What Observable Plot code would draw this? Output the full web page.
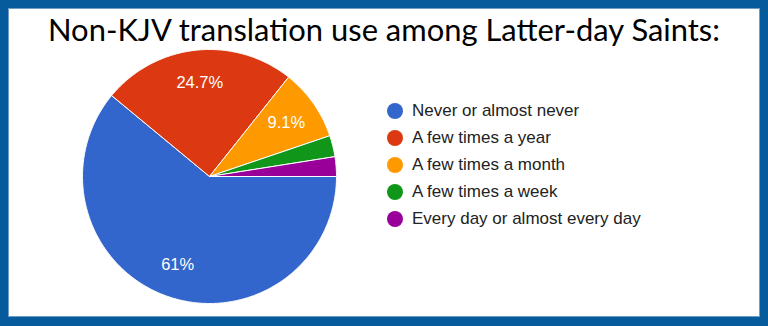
<!DOCTYPE html>
<html>
<head>
<meta charset="utf-8">
<script src="https://cdn.jsdelivr.net/npm/d3@7"></script>
<script src="https://cdn.jsdelivr.net/npm/@observablehq/plot@0.6"></script>
<style>
  html, body { margin: 0; padding: 0; background: #fff; }
  #frame {
    position: relative; width: 768px; height: 326px; box-sizing: border-box;
    border: 8px solid #055b9c; border-bottom-width: 9px;
    box-shadow: inset 0 0 0 1px #6f9cc6; background: #fff; overflow: hidden;
  }
  #title {
    position: absolute; left: 0; top: 3px; width: 752px; text-align: center;
    font-family: Lato, "Open Sans", sans-serif; font-size: 30px; color: #000;
    white-space: nowrap; line-height: 36px;
  }
  #title span { display: inline-block; transform-origin: center; }
  #pie { position: absolute; left: 73px; top: 40px; }
  #legend {
    position: absolute; left: 379px; top: 89px;
    font-family: Arial, "Liberation Sans", sans-serif; font-size: 17px; color: #222;
  }
  .row { display: flex; align-items: center; height: 27px; }
  .sw { width: 16px; height: 16px; border-radius: 50%; margin-right: 9px; flex: none; }
</style>
</head>
<body>
<div id="frame">
  <div id="title"><span>Non-KJV translation use among Latter-day Saints:</span></div>
  <div id="pie"></div>
  <div id="legend"></div>
</div>
<script>
const categories = ["Never or almost never", "A few times a year", "A few times a month", "A few times a week", "Every day or almost every day"];
const values = [61, 24.7, 9.1, 2.7, 2.5];
const sliceLabels = ["61%", "24.7%", "9.1%", "", ""];
const colors = ["#3366cc", "#dc3912", "#ff9900", "#109618", "#990099"];

// Fit title width
const tspan = document.querySelector("#title span");
const w = tspan.getBoundingClientRect().width;
tspan.style.transform = `scaleX(${672 / w})`;

// Pie geometry from data (d3.pie, clockwise from 3 o'clock)
const arcs = d3.pie().sort(null).startAngle(Math.PI / 2).endAngle(Math.PI / 2 + 2 * Math.PI)(values);
const outline = [];
const labelPts = [];
arcs.forEach((a, i) => {
  const cat = categories[i];
  outline.push({cat, x: 0, y: 0});
  const n = Math.max(2, Math.ceil((a.endAngle - a.startAngle) / 0.01));
  for (let k = 0; k <= n; k++) {
    const t = a.startAngle + (a.endAngle - a.startAngle) * k / n;
    outline.push({cat, x: Math.sin(t), y: Math.cos(t)});
  }
  outline.push({cat, x: 0, y: 0});
  const m = (a.startAngle + a.endAngle) / 2;
  labelPts.push({cat, label: sliceLabels[i], x: 0.74 * Math.sin(m), y: 0.74 * Math.cos(m)});
});

const chart = Plot.plot({
  width: 256, height: 256,
  margin: 1,
  x: {domain: [-1, 1], axis: null},
  y: {domain: [-1, 1], axis: null},
  color: {domain: categories, range: colors},
  marks: [
    Plot.line(outline, {x: "x", y: "y", z: "cat", fill: "cat", stroke: "white", strokeWidth: 1, strokeLinejoin: "round", curve: "linear"}),
    Plot.text(labelPts, {x: "x", y: "y", text: "label", fill: "white", fontSize: 16.5, fontFamily: "Arial, 'Liberation Sans', sans-serif"})
  ]
});
document.getElementById("pie").appendChild(chart);

// Legend
const legend = d3.select("#legend");
categories.forEach((c, i) => {
  const row = legend.append("div").attr("class", "row");
  row.append("div").attr("class", "sw").style("background", colors[i]);
  row.append("div").text(c);
});
</script>
</body>
</html>
